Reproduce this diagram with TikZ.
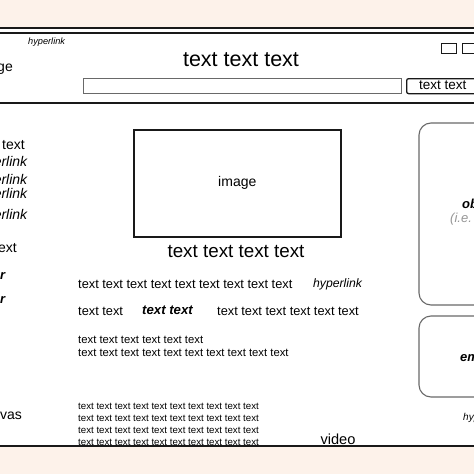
\documentclass[tikz,border=0pt]{standalone}
\usepackage{fontspec}
\setmainfont{Liberation Sans}
\usetikzlibrary{positioning}
\definecolor{wfpeach}{RGB}{253,242,234}
\definecolor{wfline}{RGB}{25,25,25}
\definecolor{wfgray}{RGB}{105,105,105}
\definecolor{wfnote}{RGB}{150,150,150}
\newcommand{\wfsize}[1]{\fontsize{#1}{1.25\dimexpr#1pt\relax}\selectfont}
\newcommand{\tenwords}{text text text text text text text text text text}
\tikzstyle{wftext} = [inner sep=0pt, text=black]
\tikzstyle{frame} = [draw=wfline, line width=1.6pt]
\tikzstyle{panel} = [draw=wfgray, line width=1.1pt, rounded corners=12pt]

\begin{document}
\begin{tikzpicture}[x=1pt, y=-1pt]
\useasboundingbox (0,0) rectangle (474,474);
\clip (0,0) rectangle (474,474);
% page background and window
\fill[wfpeach] (0,0) rectangle (474,474);
\fill[white] (-10,28) rectangle (490,446);
\draw[frame] (-10,28) -- (490,28);
\draw[frame, line width=1.3pt] (-10,33) -- (490,33);
\draw[frame] (-10,103) -- (490,103);
\draw[frame] (-10,446) -- (490,446);

% title bar
\node[wftext, anchor=east] (pagename) at (13,68) {\wfsize{14}image};
\node[wftext, anchor=west] (toplink) at (28,42) {\wfsize{9.2}\textit{hyperlink}};
\node[wftext] (title) at (241,60) {\wfsize{21.5}text text text};
\draw[frame, line width=1pt] (441,43) rectangle (456,53);
\draw[frame, line width=1pt] (462,43) rectangle (477,53);
\draw[draw=wfgray, line width=1pt] (83,78) rectangle (401,93);
\node[draw=wfline, line width=1.3pt, rounded corners=2pt, minimum width=80pt, minimum height=15pt,
  anchor=north west, inner sep=0pt] (gobtn) at (406,78) {};
\node[wftext, anchor=west] (gotext) at (419,85.5) {\wfsize{13.5}text text};

% left menu
\node[wftext, anchor=east] (menu1) at (25,145) {\wfsize{14}text text};
\node[wftext, anchor=east] (menu2) at (28,163) {\wfsize{14}\textit{hyperlink}};
\node[wftext, anchor=east] (menu3) at (28,181) {\wfsize{14}\textit{hyperlink}};
\node[wftext, anchor=east] (menu4) at (28,195) {\wfsize{14}\textit{hyperlink}};
\node[wftext, anchor=east] (menu5) at (28,216) {\wfsize{14}\textit{hyperlink}};
\node[wftext, anchor=east] (menu6) at (17,248) {\wfsize{14}text};
\node[wftext, anchor=east] (menu7) at (6,275) {\wfsize{13}\textit{\textbf{footer}}};
\node[wftext, anchor=east] (menu8) at (6,299) {\wfsize{13}\textit{\textbf{footer}}};
\node[wftext, anchor=east] (canvas) at (22,416) {\wfsize{14}canvas};

% main content
\node[draw=wfline, line width=1.6pt, minimum width=207pt, minimum height=107pt,
  anchor=north west, inner sep=0pt] (picbox) at (133,129) {};
\node[wftext] (piclabel) at (picbox.center) {\wfsize{14}image};
\node[wftext] (caption) at (236,252) {\wfsize{18.8}text text text text};
\node[wftext, anchor=west] (row1) at (78,284) {\wfsize{12.8}text text text text text text text text text};
\node[wftext, anchor=west] (row1link) at (313,284) {\wfsize{12.2}\textit{hyperlink}};
\node[wftext, anchor=west] (row2a) at (78,311) {\wfsize{12.8}text text};
\node[wftext, anchor=west] (row2b) at (142,310) {\wfsize{13.2}\textbf{\textit{text text}}};
\node[wftext, anchor=west] (row2c) at (217,311) {\wfsize{12.8}text text text text text text};
\node[wftext, anchor=west] (row3) at (78,340) {\wfsize{11.3}text text text text text text};
\node[wftext, anchor=west] (row4) at (78,353) {\wfsize{11.3}\tenwords};
\foreach \yy [count=\i] in {406,418,430,442}
  \node[wftext, anchor=west] (block\i) at (78,\yy) {\wfsize{9.7}\tenwords};
\node[wftext] (video) at (338,439) {\wfsize{14.6}video};

% right side panels
\draw[panel] (419,123) rectangle (500,305);
\node[wftext, anchor=west] (objlabel) at (462,205) {\wfsize{13}\textbf{\textit{object}}};
\node[wftext, anchor=west, text=wfnote] (objnote) at (450,219) {\wfsize{13}\textit{(i.e. text)}};
\draw[panel] (419,316) rectangle (500,397);
\node[wftext, anchor=west] (embedlabel) at (460,357) {\wfsize{13}\textbf{\textit{embed}}};
\node[wftext, anchor=west] (sidelink) at (463,418) {\wfsize{10}\textit{hyperlink}};
\end{tikzpicture}
\end{document}
